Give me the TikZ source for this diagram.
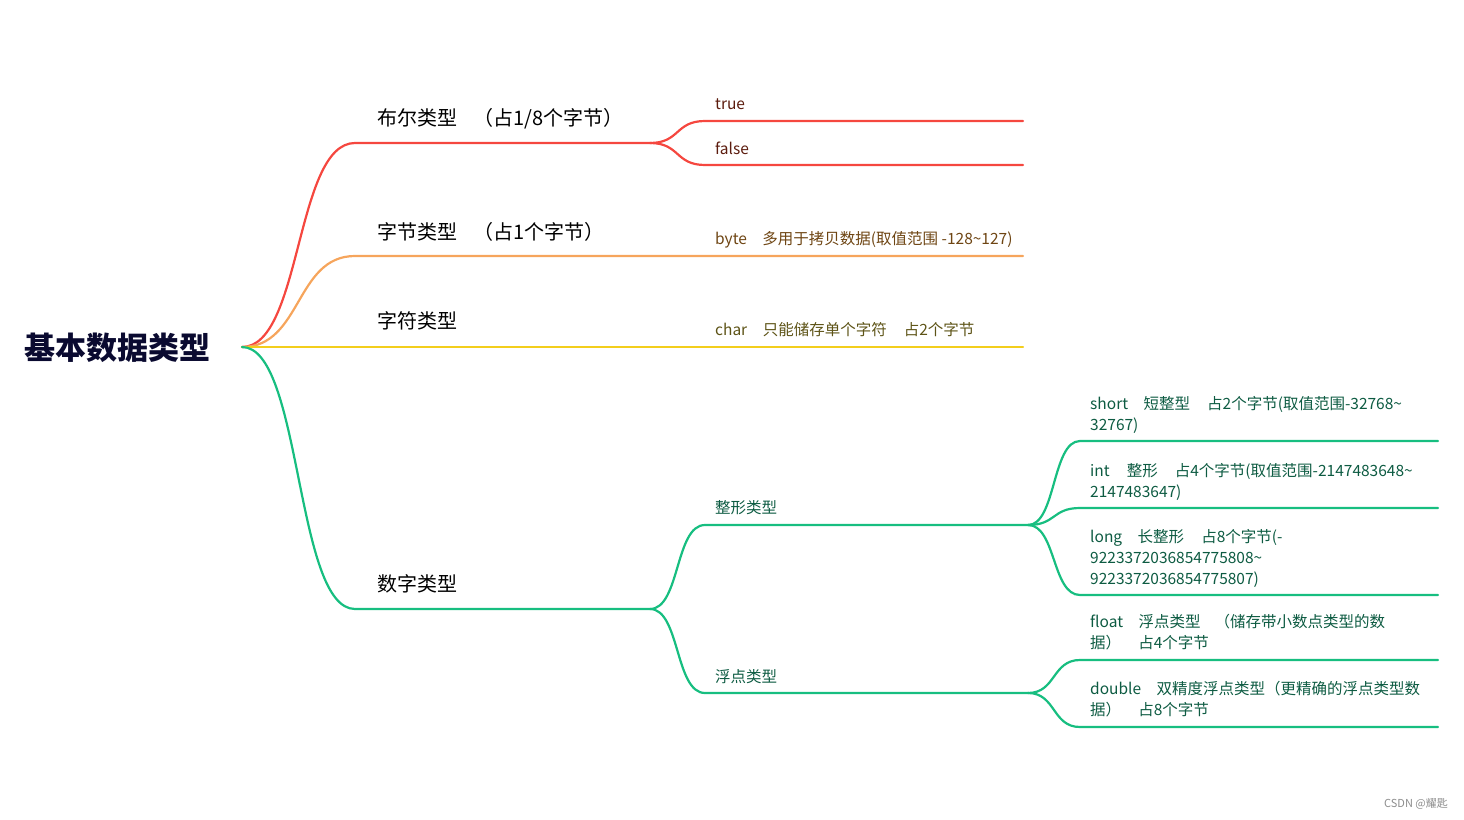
\documentclass[tikz,border=0pt]{standalone}
\usepackage{fontspec}
\setmainfont{Noto Sans CJK SC}
\definecolor{cred}{HTML}{F5473F}
\definecolor{corange}{HTML}{F6A55C}
\definecolor{cyellow}{HTML}{F3CE1C}
\definecolor{cgreen}{HTML}{17BE80}
\definecolor{tred}{HTML}{5C1C0E}
\definecolor{tbrown}{HTML}{6E4513}
\definecolor{tolive}{HTML}{5D5316}
\definecolor{tgreen}{HTML}{0D5B42}
\definecolor{troot}{HTML}{0A0A30}
\begin{document}
\begin{tikzpicture}[x=1pt,y=-1pt,
  br/.style={line width=2.2pt, line cap=round},
  lvone/.style={anchor=base west, inner sep=0pt, text=black, font=\fontsize{20}{24}\selectfont},
  leaf/.style={anchor=base west, inner sep=0pt, align=left, font=\fontsize{15.5}{20.6}\selectfont},
  rootlbl/.style={anchor=base east, inner sep=0pt, text=troot, font=\fontsize{31}{36}\selectfont\bfseries}
]
\useasboundingbox (0,0) rectangle (1464,819);

% root
\coordinate (root) at (242,347);
\node[rootlbl] (rootname) at (211,359) {基本数据类型};

% level 1 points
\coordinate (boolS) at (355,143);  \coordinate (boolE) at (650,143);
\coordinate (byteS) at (355,256);  \coordinate (byteE) at (1023,256);
\coordinate (charE) at (1023,347);
\coordinate (numS) at (355,609);   \coordinate (numE) at (650,609);

% bool
\draw[br, cred] (root) .. controls +(60,0) and +(-60,0) .. (boolS) -- (boolE);
\node[lvone] (boollbl) at (377,125) {布尔类型\hspace{0.8em}（占1/8个字节）};
\coordinate (trueS) at (705,121); \coordinate (trueE) at (1023,121);
\coordinate (falseS) at (705,165); \coordinate (falseE) at (1023,165);
\draw[br, cred] (boolE) .. controls +(30,0) and +(-30,0) .. (trueS) -- (trueE);
\draw[br, cred] (boolE) .. controls +(30,0) and +(-30,0) .. (falseS) -- (falseE);
\node[leaf, text=tred] (truelbl) at (715,109) {true};
\node[leaf, text=tred] (falselbl) at (715,154) {false};

% byte
\draw[br, corange] (root) .. controls +(60,0) and +(-60,0) .. (byteS) -- (byteE);
\node[lvone] (bytelbl) at (377,239) {字节类型\hspace{0.8em}（占1个字节）};
\node[leaf, text=tbrown] (byteleaf) at (715,244) {byte\hspace{1em}多用于拷贝数据(取值范围 -128\textasciitilde127)};

% char
\draw[br, cyellow] (root) -- (charE);
\node[lvone] (charlbl) at (377,328) {字符类型};
\node[leaf, text=tolive] (charleaf) at (715,335) {char\hspace{1em}只能储存单个字符\hspace{1.1em}占2个字节};

% number
\draw[br, cgreen] (root) .. controls +(60,0) and +(-60,0) .. (numS) -- (numE);
\node[lvone] (numlbl) at (377,591) {数字类型};

\coordinate (intS) at (705,525); \coordinate (intE) at (1028,525);
\coordinate (fltS) at (705,693); \coordinate (fltE) at (1028,693);
\draw[br, cgreen] (numE) .. controls +(30,0) and +(-30,0) .. (intS) -- (intE);
\draw[br, cgreen] (numE) .. controls +(30,0) and +(-30,0) .. (fltS) -- (fltE);
\node[leaf, text=tgreen] (intlbl) at (715,513) {整形类型};
\node[leaf, text=tgreen] (fltlbl) at (715,682) {浮点类型};

% integer leaves
\coordinate (shortS) at (1080,441); \coordinate (shortE) at (1438,441);
\coordinate (intlS) at (1080,508);  \coordinate (intlE) at (1438,508);
\coordinate (longS) at (1080,595);  \coordinate (longE) at (1438,595);
\draw[br, cgreen] (intE) .. controls +(28,0) and +(-28,0) .. (shortS) -- (shortE);
\draw[br, cgreen] (intE) .. controls +(28,0) and +(-28,0) .. (intlS) -- (intlE);
\draw[br, cgreen] (intE) .. controls +(28,0) and +(-28,0) .. (longS) -- (longE);
\node[leaf, text=tgreen] (shortlbl) at (1090,430) {short\hspace{1em}短整型\hspace{1.1em}占2个字节(取值范围-32768\textasciitilde\\32767)};
\node[leaf, text=tgreen] (intleaf) at (1090,497) {int\hspace{1.1em}整形\hspace{1.1em}占4个字节(取值范围-2147483648\textasciitilde\\2147483647)};
\node[leaf, text=tgreen] (longlbl) at (1090,584) {long\hspace{1em}长整形\hspace{1.1em}占8个字节(-\\9223372036854775808\textasciitilde\\9223372036854775807)};

% float leaves
\coordinate (floatS) at (1080,660);  \coordinate (floatE) at (1438,660);
\coordinate (doubleS) at (1080,727); \coordinate (doubleE) at (1438,727);
\draw[br, cgreen] (fltE) .. controls +(28,0) and +(-28,0) .. (floatS) -- (floatE);
\draw[br, cgreen] (fltE) .. controls +(28,0) and +(-28,0) .. (doubleS) -- (doubleE);
\node[leaf, text=tgreen] (floatlbl) at (1090,648) {float\hspace{1em}浮点类型\hspace{0.9em}（储存带小数点类型的数\\据）\hspace{1.1em}占4个字节};
\node[leaf, text=tgreen] (doublelbl) at (1090,715) {double\hspace{1em}双精度浮点类型（更精确的浮点类型数\\据）\hspace{1.1em}占8个字节};

% watermark
\node[anchor=base east, inner sep=0pt, text=black!45, font=\fontsize{11}{13}\selectfont] (wm) at (1448,807) {CSDN @耀匙};
\end{tikzpicture}
\end{document}
